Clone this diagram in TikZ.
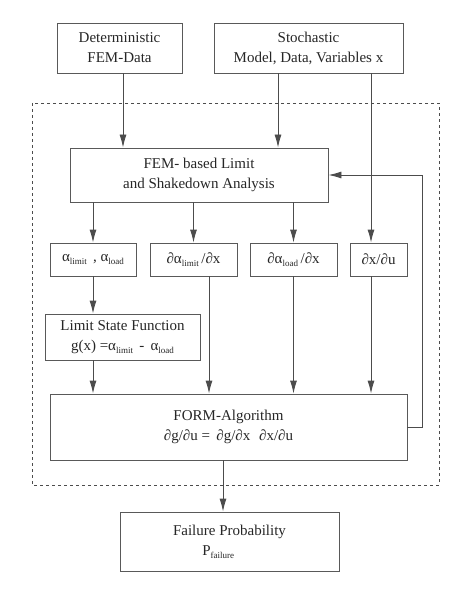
\documentclass[tikz,border=0pt]{standalone}
\usepackage{fontspec}
\setmainfont{Liberation Serif}
\usetikzlibrary{arrows.meta}
\newcommand{\lowtxt}[1]{\raisebox{-0.45ex}{\fontsize{9}{9}\selectfont #1}}
\tikzset{
  blk/.style={draw=black!65, line width=0.9pt, inner sep=0pt, align=center, text=black!85,
    font=\fontsize{15}{20}\selectfont},
  flow/.style={->, draw=black!70, line width=0.9pt}
}

\begin{document}
\begin{tikzpicture}[>={Latex[length=13pt,width=7pt]},x=1pt,y=-1pt]
        \useasboundingbox (0,0) rectangle (474,596);
        % boxes
        \node[blk, minimum width=125pt, minimum height=50pt] (det) at (119.5,48) {Deterministic\\FEM-Data};
        \node[blk, minimum width=189pt, minimum height=50pt] (stoch) at (308.5,48) {Stochastic\\Model, Data, Variables x};
        \node[blk, minimum width=258pt, minimum height=54pt] (fem) at (199,175) {FEM- based Limit\\and Shakedown Analysis};
        \node[blk, minimum width=86pt, minimum height=33pt] (alph) at (93,259.5) {α\lowtxt{limit}\, , α\lowtxt{load}};
        \node[blk, minimum width=87pt, minimum height=33pt] (dlim) at (193.5,259.5) {∂α\lowtxt{limit}\,/∂x};
        \node[blk, minimum width=87pt, minimum height=33pt] (dload) at (293.5,259.5) {∂α\lowtxt{load}\,/∂x};
        \node[blk, minimum width=57pt, minimum height=33pt] (dxdu) at (378.5,259.5) {∂x/∂u};
        \node[blk, minimum width=155pt, minimum height=46pt] (lsf) at (122.5,337) {Limit State Function\\g(x) =α\lowtxt{limit}\, - \,α\lowtxt{load}};
        \node[blk, minimum width=357pt, minimum height=66pt] (form) at (228.5,427) {FORM-Algorithm\\∂g/∂u = \,∂g/∂x \,\,∂x/∂u};
        \node[blk, minimum width=219pt, minimum height=59pt] (fail) at (229.5,541.5) {Failure Probability\\\hspace*{-1.5em}P\lowtxt{failure}};
        % frame
        \draw[dashed, draw=black!70, line width=0.8pt] (32,103) rectangle (439,485);
        % columns
        \coordinate (cDet) at (123,0);
        \coordinate (cSto) at (278,0);
        \coordinate (cX) at (371,0);
        \coordinate (cLim) at (209,0);
        \coordinate (cOut) at (223,0);
        \coordinate (cBack) at (422,0);
        % arrows
        \draw[flow] (det.south -| cDet) -- (fem.north -| cDet);
        \draw[flow] (stoch.south -| cSto) -- (fem.north -| cSto);
        \draw[flow] (stoch.south -| cX) -- (dxdu.north -| cX);
        \draw[flow] (fem.south -| alph.north) -- (alph.north);
        \draw[flow] (fem.south -| dlim.north) -- (dlim.north);
        \draw[flow] (fem.south -| dload.north) -- (dload.north);
        \draw[flow] (alph.south) -- (lsf.north -| alph.south);
        \draw[flow] (lsf.south -| alph.south) -- (form.north -| alph.south);
        \draw[flow] (dlim.south -| cLim) -- (form.north -| cLim);
        \draw[flow] (dload.south) -- (form.north -| dload.south);
        \draw[flow] (dxdu.south -| cX) -- (form.north -| cX);
        \draw[flow] (form.south -| cOut) -- (fail.north -| cOut);
        \draw[flow] (form.east) -- (form.east -| cBack) |- (fem.east);
    \end{tikzpicture}
\end{document}
